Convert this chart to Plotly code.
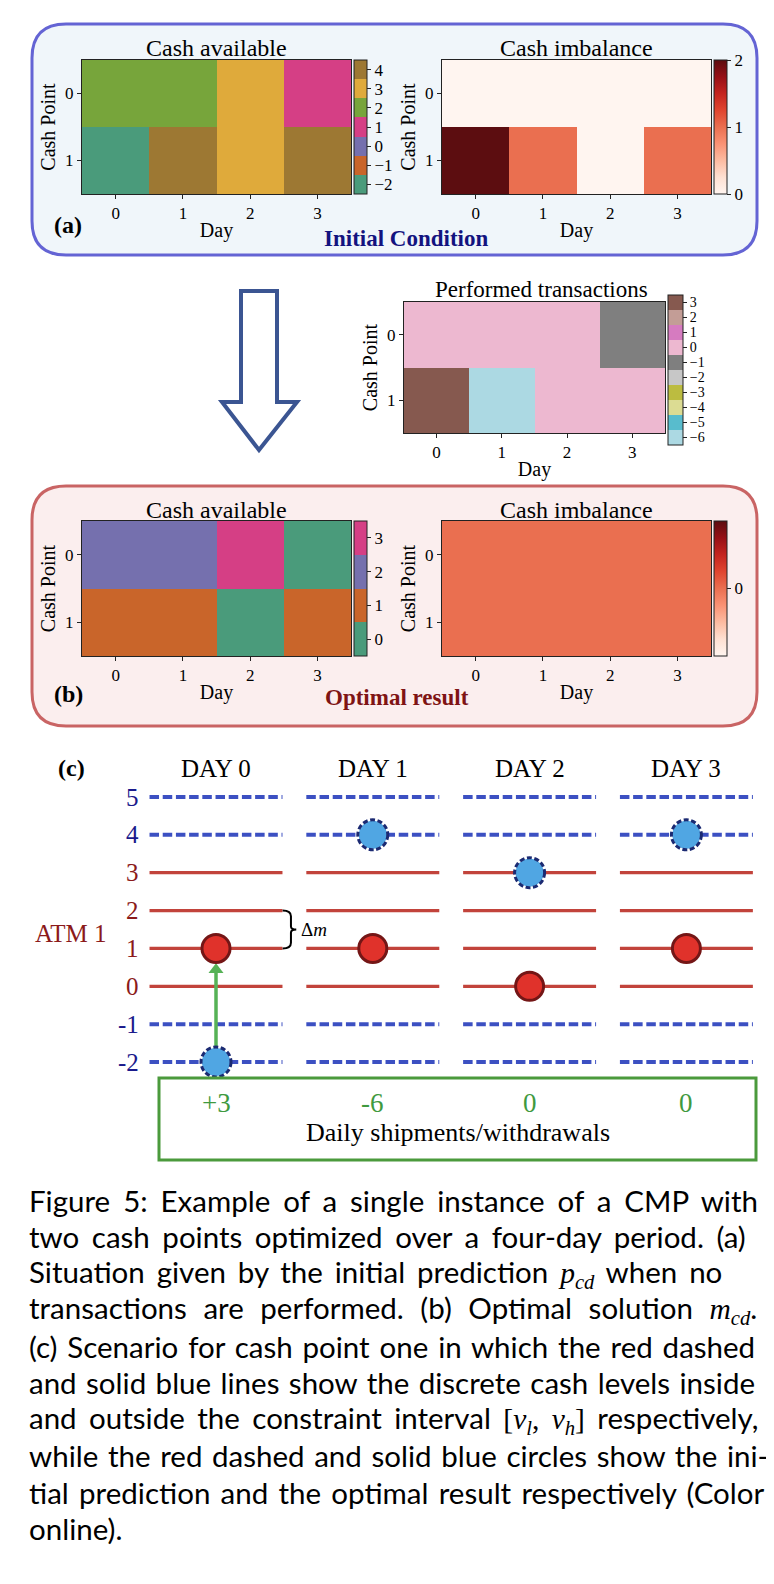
import plotly.graph_objects as go

W, H = 774, 1584
SERIF = "Liberation Serif, Times New Roman, serif"
SANS = "Lato, Noto Sans, sans-serif"

# ---------------- data ----------------
days = [0, 1, 2, 3]
cash_points = [0, 1]
cash_initial = [[2, 2, 3, 1], [-2, 4, 3, 4]]
imbalance_initial = [[0, 0, 0, 0], [2, 1, 0, 1]]
transactions = [[0, 0, 0, -1], [3, -6, 0, 0]]
cash_optimal = [[2, 2, 3, 0], [1, 1, 0, 1]]
imbalance_optimal = [[0, 0, 0, 0], [0, 0, 0, 0]]

cash_levels_a = [-2, -1, 0, 1, 2, 3, 4]
cash_levels_b = [0, 1, 2, 3]
imb_ticks_a = [0, 1, 2]
imb_ticks_b = [0]
tx_levels = [-6, -5, -4, -3, -2, -1, 0, 1, 2, 3]

dark2 = ["#4a9b7b", "#c9652a", "#7570ae", "#d53f85", "#77a53b", "#dfaa3b", "#9d7833"]
tx_colors = ["#acd9e3", "#58bccd", "#dcdc93", "#bcbc40", "#c7c7c7", "#7f7f7f",
             "#edb8d0", "#d67bc0", "#c39d96", "#86594f"]
reds = [[0, "#fff5f0"], [0.125, "#fee0d2"], [0.25, "#fcbba1"], [0.375, "#fa9274"],
        [0.5, "#ea6f50"], [0.625, "#e0452f"], [0.75, "#c4241f"], [0.875, "#961016"],
        [1, "#5c0d10"]]

# panel (c)
levels = [-2, -1, 0, 1, 2, 3, 4, 5]
v_low, v_high = 0, 3
day_labels = ["DAY 0", "DAY 1", "DAY 2", "DAY 3"]
cp = 1
prediction = cash_initial[cp]
optimal = cash_optimal[cp]
shipments = transactions[cp]

MATH = "<span style=\"font-family:'Liberation Serif'\">"
caption_lines = [
    "Figure 5: Example of a single instance of a CMP with",
    "two cash points optimized over a four-day period. (a)",
    "Situation given by the initial prediction " + MATH + "<i>p</i><sub><i>cd</i></sub></span> when no",
    "transactions are performed. (b) Optimal solution " + MATH + "<i>m</i><sub><i>cd</i></sub></span>.",
    "(c) Scenario for cash point one in which the red dashed",
    "and solid blue lines show the discrete cash levels inside",
    "and outside the constraint interval " + MATH + "[<i>v</i><sub><i>l</i></sub>, <i>v</i><sub><i>h</i></sub>]</span> respectively,",
    "while the red dashed and solid blue circles show the ini-",
    "tial prediction and the optimal result respectively (Color",
    "online).",
]
caption_wordspacing = [5.4, 5.0, 4.3, 9.0, 2.3, 1.9, 4.9, 2.1, 2.7, 0]


def X(p):
    return p / W


def Y(p):
    return 1 - p / H


def minus(v):
    return str(v).replace("-", "\u2212")


def discrete_scale(colors):
    n = len(colors)
    cs = []
    for i, c in enumerate(colors):
        cs.append([i / n, c])
        cs.append([(i + 1) / n, c])
    return cs


def txt(text, x, y, size, color="black", family=SERIF, xref="paper", yref="paper",
        xanchor="center", yanchor="middle"):
    return dict(text=text, x=x, y=y, xref=xref, yref=yref, xanchor=xanchor, yanchor=yanchor,
                showarrow=False, font=dict(family=family, size=size, color=color))


fig = go.Figure()
annotations = []
shapes = []

# ---------------- heatmaps ----------------
heat_specs = [
    # z, colorscale, zmin, zmax, tickvals, xdom(px), ydom(px), cbar x, cbar y, cbar len, title, title x, title y
    (cash_initial, discrete_scale(dark2), -2.5, 4.5, cash_levels_a, (74, 343), (52, 186), 346, 52, 134, "Cash available", 208, 40),
    (imbalance_initial, reds, 0, 2, imb_ticks_a, (434, 703), (52, 186), 706, 52, 134, "Cash imbalance", 568, 40),
    (transactions, discrete_scale(tx_colors), -6.5, 3.5, tx_levels, (396, 657), (294, 425), 660, 287, 150, "Performed transactions", 533, 282),
    (cash_optimal, discrete_scale(dark2[:4]), -0.5, 3.5, cash_levels_b, (74, 343), (513, 648), 346, 513, 135, "Cash available", 208, 502),
    (imbalance_optimal, reds, -1, 1, imb_ticks_b, (434, 703), (513, 648), 706, 513, 135, "Cash imbalance", 568, 502),
]

layout_axes = {}
for i, (z, cs, zmin, zmax, tv, xd, yd, cbx, cby, cbl, title, tx, ty) in enumerate(heat_specs, start=1):
    small = (i == 3)
    fig.add_trace(go.Heatmap(
        z=z, x=days, y=cash_points, colorscale=cs, zmin=zmin, zmax=zmax,
        xaxis=f"x{i}", yaxis=f"y{i}", hoverinfo="skip",
        colorbar=dict(
            x=X(cbx), xanchor="left", y=Y(cby), yanchor="top",
            len=cbl, lenmode="pixels", thickness=15 if small else 13, thicknessmode="pixels",
            xpad=0, ypad=0, outlinewidth=1, outlinecolor="#222",
            tickvals=tv, ticktext=[minus(v) for v in tv],
            ticks="outside", ticklen=4, tickcolor="#222",
            tickfont=dict(family=SERIF, size=14 if small else 17, color="black"),
        ),
    ))
    fs_tick = 17
    fs_title = 20
    layout_axes[f"xaxis{i}"] = dict(
        domain=[X(xd[0]), X(xd[1])], range=[-0.5, 3.5], tickvals=days,
        ticks="outside", ticklen=4, tickcolor="#222", showline=True, mirror=True,
        linecolor="#222", linewidth=1, showgrid=False, zeroline=False, anchor=f"y{i}",
        tickfont=dict(family=SERIF, size=fs_tick, color="black"), automargin=False,
        title=dict(text="Day", standoff=0, font=dict(family=SERIF, size=fs_title, color="black")),
        fixedrange=True,
    )
    layout_axes[f"yaxis{i}"] = dict(
        domain=[Y(yd[1]), Y(yd[0])], range=[1.5, -0.5], tickvals=cash_points,
        ticks="outside", ticklen=4, tickcolor="#222", showline=True, mirror=True,
        linecolor="#222", linewidth=1, showgrid=False, zeroline=False, anchor=f"x{i}",
        tickfont=dict(family=SERIF, size=fs_tick, color="black"), automargin=False,
        title=dict(text="Cash Point", standoff=4, font=dict(family=SERIF, size=fs_title, color="black")),
        fixedrange=True,
    )
    annotations.append(txt(title, X(tx), Y(ty), 23 if small else 24))

# ---------------- panel boxes ----------------
def rounded_path(x0, y0, x1, y1, r):
    return (f"M {X(x0 + r)},{Y(y0)} L {X(x1 - r)},{Y(y0)} Q {X(x1)},{Y(y0)} {X(x1)},{Y(y0 + r)} "
            f"L {X(x1)},{Y(y1 - r)} Q {X(x1)},{Y(y1)} {X(x1 - r)},{Y(y1)} "
            f"L {X(x0 + r)},{Y(y1)} Q {X(x0)},{Y(y1)} {X(x0)},{Y(y1 - r)} "
            f"L {X(x0)},{Y(y0 + r)} Q {X(x0)},{Y(y0)} {X(x0 + r)},{Y(y0)} Z")


shapes.append(dict(type="path", xref="paper", yref="paper", path=rounded_path(24, 16, 749, 247, 34),
                   line=dict(color="#6464d4", width=3), fillcolor="#f0f6fa", layer="below"))
shapes.append(dict(type="path", xref="paper", yref="paper", path=rounded_path(24, 478, 749, 718, 34),
                   line=dict(color="#c96464", width=3), fillcolor="#fbeeee", layer="below"))

annotations += [
    txt("<b>(a)</b>", X(60), Y(217), 24),
    txt("<b>Initial Condition</b>", X(398), Y(230), 23, "#13137f"),
    txt("<b>(b)</b>", X(60), Y(686), 24),
    txt("<b>Optimal result</b>", X(389), Y(690), 23, "#7f1414"),
]

# big outline arrow
arrow_pts = [(233, 283), (269, 283), (269, 394), (289, 394), (251, 442), (214, 394), (233, 394)]
arrow_path = "M " + " L ".join(f"{X(a)},{Y(b)}" for a, b in arrow_pts) + " Z"
shapes.append(dict(type="path", xref="paper", yref="paper", path=arrow_path,
                   line=dict(color="#3b5592", width=4), fillcolor="white", layer="above"))

# ---------------- panel (c) ----------------
CX0, STEP = 208, 156.8
L5, LM2 = 789, 1054
LSTEP = (LM2 - L5) / 7
LY0 = L5 + 5 * LSTEP
HALF = 0.424
layout_axes["xaxis6"] = dict(domain=[0, 1], range=[(0 - CX0) / STEP, (W - CX0) / STEP],
                             visible=False, anchor="y6", fixedrange=True)
layout_axes["yaxis6"] = dict(domain=[Y(1080), Y(770)], range=[(LY0 - 1080) / LSTEP, (LY0 - 770) / LSTEP],
                             visible=False, anchor="x6", fixedrange=True)

red_x, red_y, blue_x, blue_y = [], [], [], []
for d in days:
    for L in levels:
        if v_low <= L <= v_high:
            red_x += [d - HALF, d + HALF, None]
            red_y += [L, L, None]
        else:
            blue_x += [d - HALF, d + HALF, None]
            blue_y += [L, L, None]

fig.add_trace(go.Scatter(x=red_x, y=red_y, mode="lines", xaxis="x6", yaxis="y6",
                         line=dict(color="#c2433b", width=3.2), hoverinfo="skip", showlegend=False))
fig.add_trace(go.Scatter(x=blue_x, y=blue_y, mode="lines", xaxis="x6", yaxis="y6",
                         line=dict(color="#3c50c2", width=4, dash="9.5px,3.7px"), hoverinfo="skip",
                         showlegend=False))

# green shipment arrow on day 0 (from prediction up to optimum)
r_lv = 15 / LSTEP
fig.add_trace(go.Scatter(x=[days[0], days[0]], y=[prediction[0] + r_lv, optimal[0] - r_lv - 0.25],
                         mode="lines", xaxis="x6", yaxis="y6",
                         line=dict(color="#56b256", width=3.5), hoverinfo="skip", showlegend=False))
fig.add_trace(go.Scatter(x=[days[0]], y=[optimal[0] - r_lv - 0.17], mode="markers", xaxis="x6", yaxis="y6",
                         marker=dict(symbol="triangle-up", size=13, color="#56b256", line=dict(width=0)),
                         hoverinfo="skip", showlegend=False))

fig.add_trace(go.Scatter(x=days, y=prediction, mode="markers", xaxis="x6", yaxis="y6",
                         marker=dict(size=28, color="#50a6e3", line=dict(width=0)),
                         hoverinfo="skip", showlegend=False))
fig.add_trace(go.Scatter(x=days, y=optimal, mode="markers", xaxis="x6", yaxis="y6",
                         marker=dict(size=28, color="#e0322b", line=dict(color="#741616", width=3)),
                         hoverinfo="skip", showlegend=False))

for d, v in zip(days, prediction):
    shapes.append(dict(type="circle", xref="x6", yref="y6", xsizemode="pixel", ysizemode="pixel",
                       xanchor=d, yanchor=v, x0=-15, x1=15, y0=-15, y1=15,
                       line=dict(color="#1b2a72", width=3, dash="5px,2.5px"),
                       fillcolor="rgba(0,0,0,0)", layer="above"))

# level labels
for L in levels:
    col = "#8b1a1a" if v_low <= L <= v_high else "#1a1a8c"
    annotations.append(txt(str(L), X(133), L, 25, col, yref="y6", xanchor="right"))
annotations.append(txt("ATM 1", X(63), 1.4, 25, "#8b1a1a", yref="y6"))
annotations.append(txt("<b>(c)</b>", X(63), Y(760), 24))
for d, lab in zip(days, day_labels):
    annotations.append(txt(lab, d, Y(760), 25, xref="x6"))

# delta m brace
bx0, bx1, bxp = 0.425, 0.478, 0.512
brace = (f"M {bx0},2 Q {bx1},2 {bx1},1.85 L {bx1},1.58 Q {bx1},1.5 {bxp},1.5 "
         f"Q {bx1},1.5 {bx1},1.42 L {bx1},1.15 Q {bx1},1 {bx0},1")
shapes.append(dict(type="path", xref="x6", yref="y6", path=brace, line=dict(color="black", width=2)))
annotations.append(txt("\u0394<i>m</i>", 0.53, 1.5, 19, xref="x6", yref="y6", xanchor="left"))

# shipments box
shapes.append(dict(type="rect", xref="paper", yref="paper", x0=X(151), x1=X(748), y0=Y(1070), y1=Y(1152),
                   line=dict(color="#4b9a3c", width=3), fillcolor="rgba(0,0,0,0)"))
for d, s in zip(days, shipments):
    t = f"+{s}" if s > 0 else str(s)
    annotations.append(txt(t, d, Y(1095), 27, "#3f9a3f", xref="x6"))
annotations.append(txt("Daily shipments/withdrawals", X(450), Y(1124), 26))

# caption
for k, (line, ws) in enumerate(zip(caption_lines, caption_wordspacing)):
    t = f"<span style=\"word-spacing:{ws}px\">{line}</span>" if ws else line
    annotations.append(txt(t, X(19), Y(1192 + 36.5 * k), 29.5, family=SANS, xanchor="left"))

fig.update_layout(
    template="none",
    width=W, height=H, margin=dict(l=0, r=0, t=0, b=0, pad=0),
    paper_bgcolor="white", plot_bgcolor="rgba(0,0,0,0)",
    showlegend=False, annotations=annotations, shapes=shapes,
    **layout_axes,
)

fig.write_html("out.html")
